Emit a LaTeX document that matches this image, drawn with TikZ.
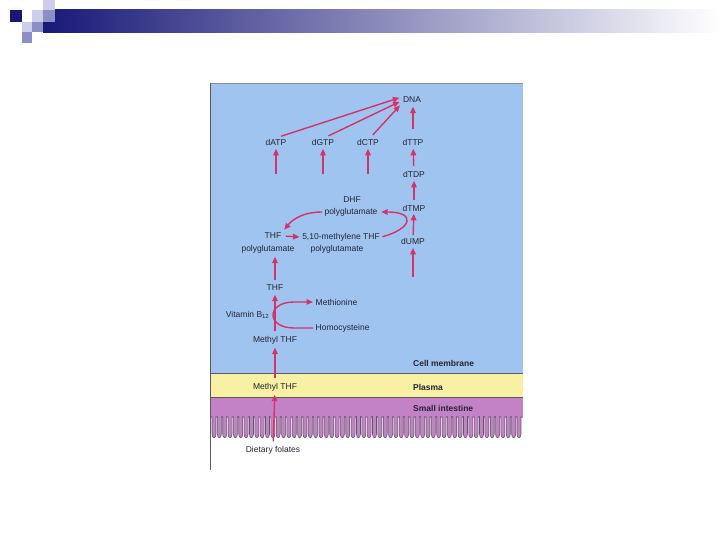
\documentclass[tikz,border=0pt]{standalone}
\usepackage{fontspec}
\setmainfont{Liberation Sans}
\usetikzlibrary{arrows.meta, calc}

\definecolor{navy}{RGB}{24,24,120}
\definecolor{lightsq}{RGB}{204,206,234}
\definecolor{medsq}{RGB}{140,142,198}
\definecolor{cellblue}{RGB}{160,196,240}
\definecolor{plasmayel}{RGB}{248,240,162}
\definecolor{gutpurple}{RGB}{196,130,198}
\definecolor{rose}{RGB}{212,50,104}
\definecolor{txt}{RGB}{36,36,50}
\definecolor{edge}{RGB}{90,90,100}

\begin{document}
\begin{tikzpicture}[x=1pt, y=-1pt,
    lbl/.style={font=\fontsize{8.5}{9.5}\selectfont, text=txt, inner sep=1.5pt},
    zone/.style={font=\fontsize{8.5}{9.5}\selectfont\bfseries, text=txt, anchor=west, inner sep=0pt},
    flow/.style={draw=rose, line width=1.4pt, shorten <=3pt, shorten >=2pt,
                 -{Triangle[length=6.5pt,width=5.5pt]}}]
    \useasboundingbox (0,0) rectangle (720,540);

    % slide header
    \shade[left color=navy, right color=white] (43,10) rectangle (720,33);
    \fill[lightsq] (43,0) rectangle (55,10);
    \fill[medsq] (43,10) rectangle (55,22);
    \fill[navy] (10,10) rectangle (22,22);
    \fill[lightsq] (32,10) rectangle (43,22);
    \fill[lightsq] (22,22) rectangle (32,32);
    \fill[medsq] (32,22) rectangle (43,32);
    \fill[medsq] (22,32) rectangle (32,43);

    % compartments
    \fill[cellblue] (210,83) rectangle (523,373);
    \fill[plasmayel] (210,373) rectangle (523,397);
    \fill[gutpurple] (210,397) rectangle (523,418);
    \foreach \i in {0,...,57} {
        \filldraw[fill=gutpurple, draw=edge, line width=0.6pt]
            ({212+\i*5.35},416) -- ++(0,18) .. controls +(0,5) and +(0,5) .. ++(4,0) -- ++(0,-18);
    }
    \draw[edge, line width=0.6pt] (210,373) -- (523,373);
    \draw[edge, line width=0.6pt] (210,397) -- (523,397);
    \draw[edge!70, line width=0.6pt] (210,83) -- (523,83);
    \draw[edge, line width=0.8pt] (210,83) -- (210,470);

    % labels
    \node[lbl] (dna) at (412,100) {DNA};
    \node[lbl] (datp) at (276,142) {dATP};
    \node[lbl] (dgtp) at (323,142) {dGTP};
    \node[lbl] (dctp) at (368,142) {dCTP};
    \node[lbl] (dttp) at (413,142) {dTTP};
    \node[lbl] (dtdp) at (414,174) {dTDP};
    \node[lbl] (dhf) at (352,200) {DHF};
    \node[lbl] (dhfpg) at (351,212) {polyglutamate};
    \node[lbl] (dtmp) at (414,208) {dTMP};
    \node[lbl] (thfa) at (273,236) {THF};
    \node[lbl] (thfpg) at (268,249) {polyglutamate};
    \node[lbl] (mthf) at (341,237) {5,10-methylene THF};
    \node[lbl] (mthfpg) at (337,249) {polyglutamate};
    \node[lbl] (dump) at (413,241) {dUMP};
    \node[lbl] (thf) at (275,288) {THF};
    \node[lbl, anchor=east] (vitb) at (271,315) {Vitamin B\textsubscript{12}};
    \node[lbl, anchor=west] (methio) at (314,302) {Methionine};
    \node[lbl, anchor=west] (homocys) at (314,328) {Homocysteine};
    \node[lbl] (methyl) at (275,340) {Methyl THF};
    \node[lbl] (methylp) at (275,387) {Methyl THF};
    \node[lbl] (diet) at (273,450) {Dietary folates};
    \node[zone] (cellm) at (413,363) {Cell membrane};
    \node[zone] (plasma) at (413,387) {Plasma};
    \node[zone] (gut) at (413,408) {Small intestine};

    % arrows
    \draw[flow] (datp.65) -- (dna.165);
    \draw[flow] (dgtp.60) -- (dna.185);
    \draw[flow] (dctp.60) -- (dna.200);
    \draw[flow, shorten <=8pt] (dttp.north) -- (dttp.north |- dna.south);
    \foreach \n in {datp,dgtp,dctp} {
        \coordinate (\n-in) at ($(\n.south)+(0,30)$);
        \draw[flow] (\n-in) -- (\n.south);
    }
    \draw[flow] (dtdp) -- (dttp);
    \draw[flow] (dtmp) -- (dtdp);
    \draw[flow, shorten <=1pt, shorten >=1pt] (dump) -- (dtmp);
    \coordinate (dump-in) at (413,280);
    \draw[flow] (dump-in) -- (dump.south);
    \draw[flow, shorten >=1pt] (thfa.east) -- (mthf.west);
    \draw[flow, shorten <=1pt] (mthf.east) .. controls +(30,-8) and +(38,0) .. (dhfpg.east);
    \draw[flow, shorten <=1pt] (dhfpg.west) .. controls +(-22,0) and +(8,-10) .. (thfa.north east);
    \draw[flow] (thf.north) -- (thf.north |- thfpg.south);
    \draw[flow] (methyl) -- (thf);
    \draw[flow, shorten <=1pt, shorten >=1pt] (homocys.west) -- ++(-20,0)
        .. controls +(-28,0) and +(-28,0) .. ($(methio.west)+(-20,0)$) -- (methio.west);
    \draw[flow] (methylp) -- (methyl);
    \draw[flow] (diet) -- (methylp);
\end{tikzpicture}
\end{document}
